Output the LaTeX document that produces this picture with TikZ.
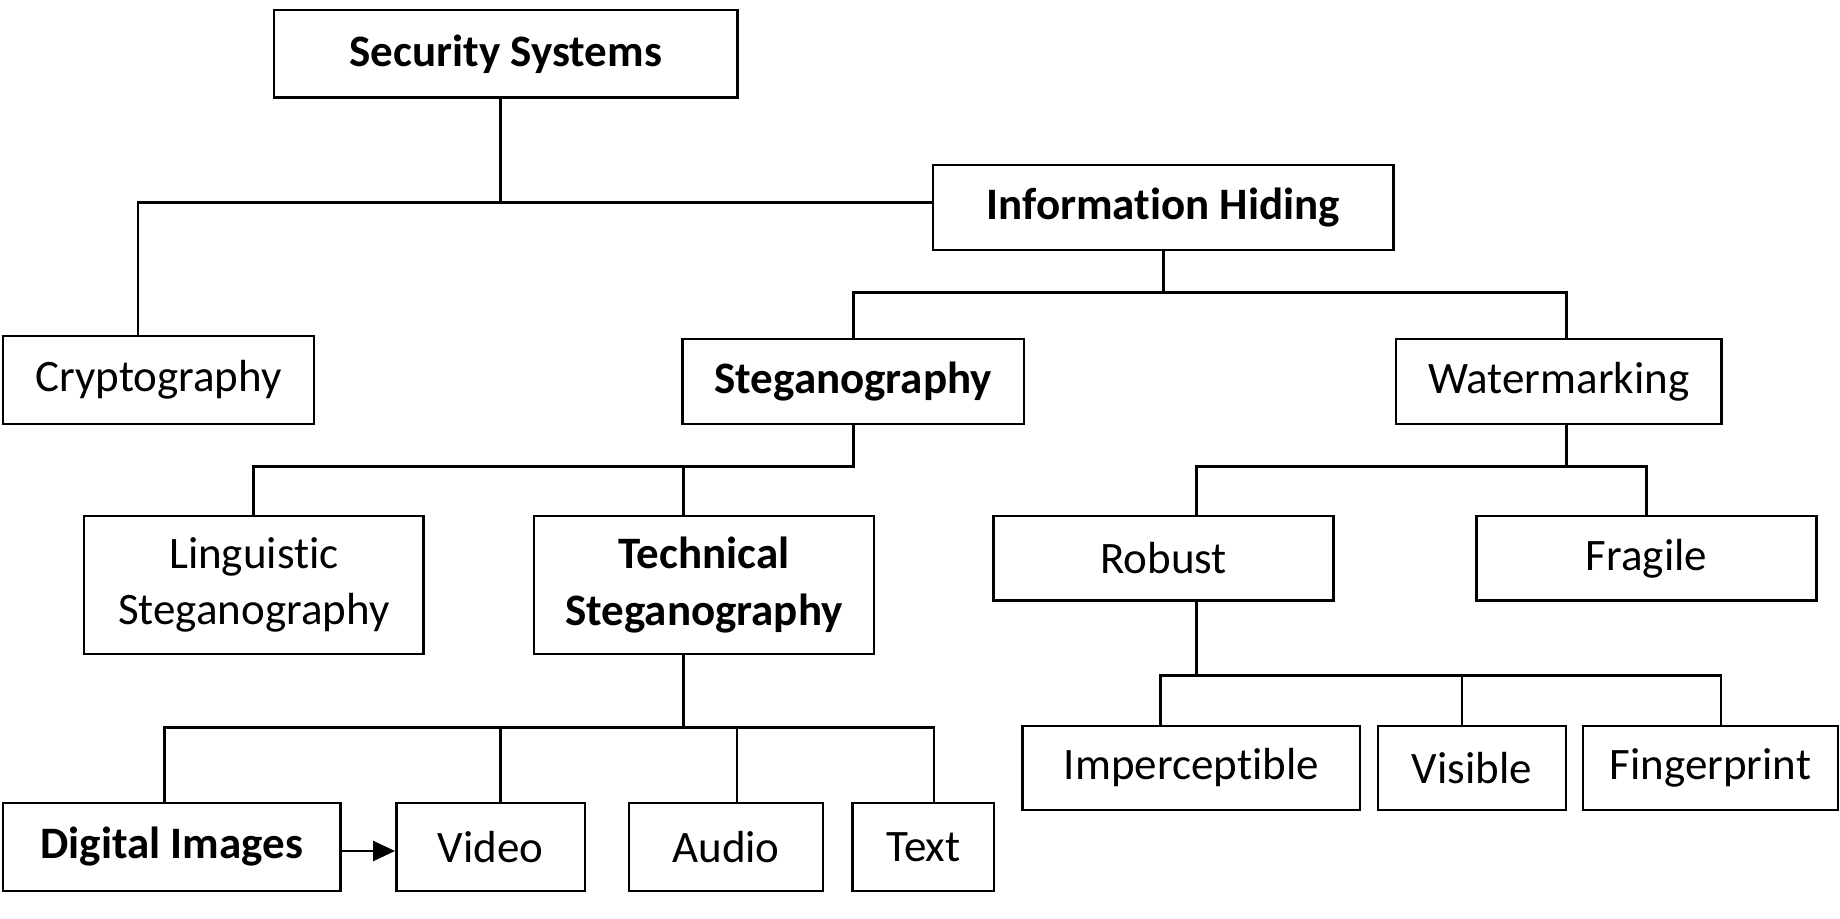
\documentclass[tikz,border=0pt]{standalone}
\usepackage{fontspec}
\setmainfont{Carlito}[Ligatures=NoCommon]
\usetikzlibrary{arrows.meta}

\begin{document}
\begin{tikzpicture}[
  box/.style={draw,line width=0.8pt,inner sep=2pt,align=center,minimum height=0.85cm,font=\fontsize{12.8}{16}\selectfont},
  boldbox/.style={box,font=\fontsize{12.8}{16}\selectfont\bfseries},
  wire/.style={line width=0.8pt}]
\useasboundingbox (0,0) rectangle (18.4,9.18);
% upper levels
\node[boldbox,minimum width=4.636cm,minimum height=0.877cm] (ss) at (5.058,8.641) {Security Systems};
\node[boldbox,minimum width=4.605cm] (ih) at (11.633,7.105) {Information Hiding};
\node[box,minimum width=3.11cm,minimum height=0.88cm] (crypt) at (1.585,5.38) {Cryptography};
\node[boldbox,minimum width=3.416cm] (steg) at (8.532,5.365) {Steganography};
\node[box,minimum width=3.256cm] (water) at (15.588,5.365) {Watermarking};
% middle level
\node[box,minimum width=3.397cm,minimum height=1.38cm] (ling) at (2.539,3.33) {Linguistic\\Steganography};
\node[boldbox,minimum width=3.40cm,minimum height=1.38cm] (tech) at (7.04,3.33) {Technical\\Steganography};
\node[box,minimum width=3.403cm,minimum height=0.847cm] (robust) at (11.635,3.596) {Robust};
\node[box,minimum width=3.404cm,minimum height=0.847cm] (fragile) at (16.465,3.596) {Fragile};
% lower levels
\node[boldbox,minimum width=3.374cm,minimum height=0.88cm] (dig) at (1.717,0.71) {Digital Images};
\node[box,minimum width=1.886cm,minimum height=0.88cm] (video) at (4.907,0.71) {Video};
\node[box,minimum width=1.94cm,minimum height=0.88cm] (audio) at (7.26,0.71) {Audio};
\node[box,minimum width=1.412cm,minimum height=0.88cm] (txt) at (9.234,0.71) {Text};
\node[box,minimum width=3.375cm,minimum height=0.84cm] (imp) at (11.913,1.50) {Imperceptible};
\node[box,minimum width=1.88cm,minimum height=0.84cm] (vis) at (14.72,1.50) {Visible};
\node[box,minimum width=2.55cm,minimum height=0.84cm] (finger) at (17.104,1.50) {Fingerprint};

% bus points
\path ([xshift=-0.05cm]ss.south) ++(0,-1.036) coordinate (ssbus);
\path (ih.south) ++(0,-0.41) coordinate (ihbus);
\path (steg.south) ++(0,-0.407) coordinate (stbus);
\path ([xshift=0.08cm]water.south) ++(0,-0.407) coordinate (wbus);
\path ([xshift=-0.204cm]tech.south) ++(0,-0.717) coordinate (tbus);
\path ([xshift=0.33cm]robust.south) ++(0,-0.733) coordinate (rbus);

% connectors
\draw[wire] ([xshift=-0.05cm]ss.south) -- (ssbus) -- (ssbus -| ih.west);
\draw[wire] (ssbus) -| ([xshift=-0.205cm]crypt.north);
\draw[wire] (ih.south) -- (ihbus) -| (steg.north);
\draw[wire] (ihbus) -| ([xshift=0.08cm]water.north);
\draw[wire] (steg.south) -- (stbus) -| (ling.north);
\draw[wire] (stbus) -| ([xshift=-0.204cm]tech.north);
\draw[wire] ([xshift=-0.204cm]tech.south) -- (tbus) -| ([xshift=-0.074cm]dig.north);
\draw[wire] (tbus) -| ([xshift=0.1cm]video.north);
\draw[wire] (tbus) -| ([xshift=0.11cm]audio.north);
\draw[wire] (tbus) -| ([xshift=0.106cm]txt.north);
\draw[wire] ([xshift=0.08cm]water.south) -- (wbus) -| ([xshift=0.33cm]robust.north);
\draw[wire] (wbus) -| (fragile.north);
\draw[wire] ([xshift=0.33cm]robust.south) -- (rbus) -| ([xshift=-0.305cm]imp.north);
\draw[wire] (rbus) -| ([xshift=-0.1cm]vis.north);
\draw[wire] (rbus) -| ([xshift=0.106cm]finger.north);
\draw[wire,-{Triangle[length=0.22cm,width=0.2cm]}] ([yshift=-0.04cm]dig.east) -- ([yshift=-0.04cm]video.west);
\end{tikzpicture}
\end{document}
